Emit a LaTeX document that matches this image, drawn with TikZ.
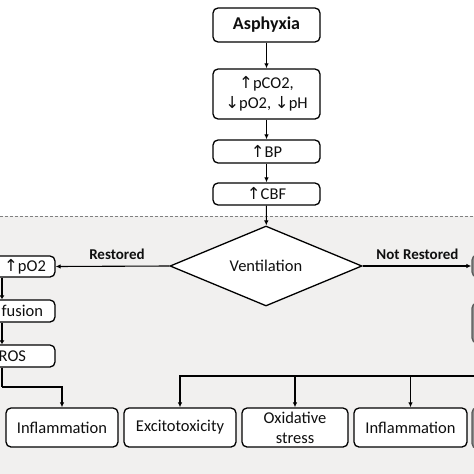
\documentclass[tikz,border=0pt]{standalone}
\usepackage{fontspec}
\setmainfont{Carlito}
\newfontfamily\arrfont{DejaVu Sans}
\newcommand{\ua}{{\arrfont ↑}}
\newcommand{\da}{{\arrfont ↓}}
\usetikzlibrary{shapes.geometric,arrows.meta}
\definecolor{bgray}{RGB}{241,240,239}
\definecolor{txt}{RGB}{15,15,15}
\definecolor{rfill}{RGB}{140,140,140}
\definecolor{rline}{RGB}{90,90,90}
\begin{document}
\begin{tikzpicture}[x=1pt,y=-1pt,
  box/.style={draw=black, line width=1.3pt, rounded corners=5pt, fill=white,
    inner sep=0pt, align=center, text=txt, font=\fontsize{16.5}{20}\selectfont},
  rbox/.style={draw=rline, line width=1.3pt, rounded corners=5pt, fill=rfill, inner sep=0pt},
  decision/.style={diamond, draw=black, line width=1.3pt, fill=white, inner sep=0pt,
    aspect=2.4, text=txt, font=\fontsize{16.5}{18}\selectfont},
  conn/.style={draw=black, line width=1.1pt, -{Latex[length=5pt,width=4.5pt]}},
  thickconn/.style={draw=black, line width=2.6pt, -{Latex[length=4pt,width=5pt]}},
  lbl/.style={font=\bfseries\fontsize{15}{16}\selectfont, text=txt, inner sep=0pt},
  sep/.style={draw=gray, line width=0.8pt, dash pattern=on 3pt off 2pt}
]
\useasboundingbox (0,0) rectangle (474,474);
\clip (0,0) rectangle (474,474);
\fill[white] (0,0) rectangle (474,216);
\fill[bgray] (0,216) rectangle (474,474);
\draw[sep] (0,216) -- (474,216);

% main column
\node[box, minimum width=107pt, minimum height=34pt, font=\bfseries\fontsize{18}{20}\selectfont] (asph) at (266.5,25) {Asphyxia};
\node[box, minimum width=107pt, minimum height=50pt] (gas) at (266.5,94) {\ua pCO2,\\\da pO2, \da pH};
\node[box, minimum width=107pt, minimum height=23pt] (bp) at (266.5,151.5) {\ua BP};
\node[box, minimum width=107pt, minimum height=22pt] (cbf) at (266.5,194) {\ua CBF};
\node[decision, minimum width=192pt, minimum height=80pt] (vent) at (266,266) {Ventilation};

\draw[conn] (asph) -- (gas);
\draw[conn] (gas) -- (bp);
\draw[conn] (bp) -- (cbf);
\draw[conn] (cbf) -- (vent);

% left branch
\node[box, minimum width=60pt, minimum height=21pt] (po2) at (25,266.5) {\ua pO2};
\node[box, minimum height=22pt, text width=76pt, inner xsep=12pt, align=right] (fusion) at (5,311) {fusion};
\node[box, minimum height=22pt, text width=42pt, inner xsep=29pt, align=right] (ros) at (5,356) {ROS};

% right branch (cut off)
\node[rbox, minimum width=50pt, minimum height=22pt] (r1) at (497,266) {};
\node[rbox, minimum width=50pt, minimum height=40pt] (r2) at (497,323) {};
\node[rbox, minimum width=50pt, minimum height=41pt] (r3) at (497,428) {};

\draw[conn] (vent.west) -- (po2.east);
\draw[conn] (vent.east) -- (r1.west);
\node[lbl] (lres) at (117,254.5) {Restored};
\node[lbl] (lnot) at (417.5,254.5) {Not Restored};

% bottom row
\node[box, minimum width=112pt, minimum height=39pt] (b1) at (62,427.5) {Inflammation};
\node[box, minimum width=112pt, minimum height=39pt] (b2) at (180,427.5) {Excitotoxicity};
\node[box, minimum width=106pt, minimum height=39pt] (b3) at (295,427.5) {Oxidative\\stress};
\node[box, minimum width=113pt, minimum height=39pt] (b4) at (410.5,427.5) {Inflammation};

% left column connectors
\coordinate (lx) at (2,0);
\coordinate (lj) at (2,387);
\draw[thickconn] (po2.south -| lx) -- (fusion.north -| lx);
\draw[thickconn] (fusion.south -| lx) -- (ros.north -| lx);
\draw[draw=black, line width=2.6pt] (ros.south -| lx) -- (lj);
\draw[conn] (lj) -| (b1.north);

% right horizontal connectors
\coordinate (hr) at (480,376);
\draw[conn] (hr) -| (b2.north);
\draw[conn] (b3.north |- hr) -- (b3.north);
\draw[conn] (b4.north |- hr) -- (b4.north);
\end{tikzpicture}
\end{document}
